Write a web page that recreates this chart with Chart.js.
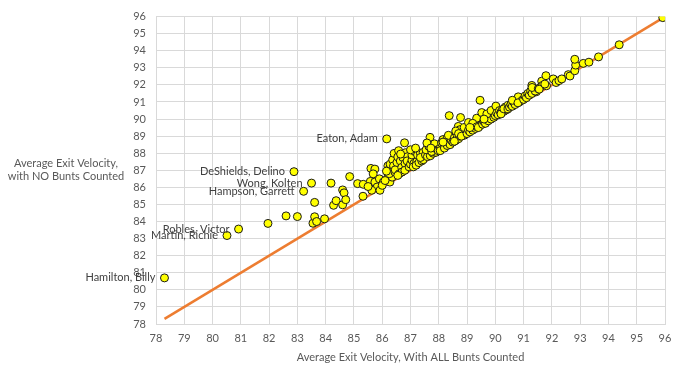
<!DOCTYPE html>
<html><head><meta charset="utf-8">
<script src="https://cdn.jsdelivr.net/npm/chart.js@4.4.0/dist/chart.umd.min.js"></script>
<style>html,body{margin:0;padding:0;background:#fff;}</style>
</head><body>
<canvas id="c" width="680" height="372"></canvas>
<script>
// Average exit velocity WITH all bunts counted (x)
const avgAllBunts = [
  78.30,80.51,80.92,81.96,82.60,83.00,82.88,83.22,83.50,84.19,83.61,83.55,83.61,83.68,83.96,84.28,84.37,84.60,84.60,84.65,84.71,84.85,85.13,85.33,85.32,
  85.60,85.74,85.68,85.58,85.74,85.82,85.90,85.63,85.92,85.50,
  86.04,86.17,86.27,86.00,86.16,86.20,86.26,86.28,86.37,86.40,86.42,86.35,86.25,86.10,86.45,86.15,
  86.46,86.52,86.55,86.58,86.64,86.69,86.73,86.79,86.82,86.81,86.60,86.70,86.80,86.55,86.95,86.90,86.65,86.88,
  87.00,87.05,87.12,87.22,87.34,87.05,87.15,87.25,87.35,87.45,87.10,87.20,87.30,87.40,87.00,87.45,87.35,87.18,
  87.53,87.64,87.69,87.88,87.60,87.70,87.80,87.90,87.55,87.65,87.75,87.85,87.95,87.58,87.72,87.98,
  88.05,88.10,88.15,88.20,88.25,88.30,88.35,88.40,88.37,88.05,88.20,88.30,88.40,88.45,88.15,88.34,
  88.50,88.55,88.60,88.65,88.70,88.75,88.69,88.75,88.77,88.90,88.95,88.60,88.70,88.80,88.90,88.55,
  89.00,89.05,89.10,89.15,89.20,89.25,89.30,89.28,89.34,89.45,89.05,89.20,89.35,89.40,89.10,
  89.46,89.52,89.55,89.60,89.65,89.70,89.75,89.80,89.85,89.90,89.95,89.70,89.85,89.60,
  90.02,90.00,90.05,90.10,90.15,90.20,90.25,90.30,90.35,90.40,90.45,90.20,90.30,90.45,
  90.50,90.55,90.60,90.65,90.70,90.75,90.80,90.85,90.81,90.95,90.60,90.80,
  91.00,91.05,91.10,91.15,91.20,91.25,91.30,91.29,91.45,91.41,91.30,
  91.52,91.58,91.64,91.67,91.79,91.81,91.55,91.75,
  92.05,92.15,92.25,92.35,92.58,92.64,92.81,92.84,92.81,93.11,93.31,93.65,94.38,95.92
];
// Average exit velocity with NO bunts counted (y)
const avgNoBunts = [
  80.70,83.18,83.56,83.89,84.33,84.29,86.92,85.77,86.25,86.25,85.12,83.90,84.28,84.00,84.16,84.95,85.22,84.98,85.85,85.68,85.28,86.63,86.22,86.18,85.48,
  87.11,87.07,86.79,86.35,86.31,86.02,86.50,85.83,85.83,86.05,
  86.31,86.50,86.31,86.12,88.84,87.26,87.11,87.36,87.61,87.26,87.99,86.60,86.80,86.40,86.90,86.95,
  87.03,87.46,87.78,88.15,87.55,87.17,87.75,88.61,88.03,87.40,86.80,86.90,87.00,86.70,87.20,87.80,87.95,87.55,
  87.36,87.60,87.40,87.50,87.70,87.90,88.10,87.90,88.00,88.05,87.20,87.30,87.45,87.55,88.20,87.62,87.75,88.30,
  87.90,88.10,88.93,88.30,87.80,87.85,88.00,88.05,88.20,88.40,88.10,88.55,88.20,88.60,88.30,88.15,
  88.30,88.60,88.80,88.40,88.50,88.90,88.55,88.60,90.20,88.15,88.30,88.45,88.50,88.75,88.65,89.05,
  88.65,88.90,88.75,89.05,88.85,89.00,89.57,89.38,90.09,89.05,89.20,89.30,89.15,89.00,89.50,88.70,
  89.15,89.35,89.25,89.50,89.35,89.60,89.45,89.76,90.05,89.60,89.80,89.75,89.55,89.50,89.50,
  91.10,90.38,89.70,89.85,89.75,90.00,89.90,90.15,90.00,90.30,90.10,90.30,90.50,90.00,
  90.76,90.20,90.35,90.25,90.50,90.40,90.55,90.45,90.70,90.55,90.80,90.30,90.60,90.60,
  90.70,90.85,90.75,91.00,90.85,91.05,91.20,91.00,91.30,91.10,91.10,90.95,
  91.15,91.35,91.25,91.50,91.40,91.65,91.50,91.97,91.60,91.64,91.85,
  91.78,91.85,92.22,91.97,92.54,91.95,91.75,92.05,
  92.35,92.14,92.25,92.35,92.60,92.52,92.83,93.16,93.50,93.26,93.33,93.64,94.35,95.94
];
// Orange reference line (y = x)
const lineX = [78.3, 95.9];
const lineY = [78.3, 95.9];
// Labelled players
const labelNames = ['Hamilton, Billy','Martin, Richie','Robles, Victor','Hampson, Garrett','Wong, Kolten','DeShields, Delino','Eaton, Adam'];
const labelX = [78.30, 80.51, 80.92, 83.22, 83.50, 82.88, 86.16];
const labelY = [80.70, 83.18, 83.56, 85.77, 86.25, 86.92, 88.84];
// Axis ticks
const axisMin = 78, axisMax = 96, axisStep = 1;
const xTitle = 'Average Exit Velocity, With ALL Bunts Counted';
const yTitleLines = ['Average Exit Velocity,', 'with NO Bunts Counted'];

const FONT = 'Lato';
const scatterData = avgAllBunts.map((v, i) => ({x: v, y: avgNoBunts[i]}));
const lineData = lineX.map((v, i) => ({x: v, y: lineY[i]}));

const textPlugin = {
  id: 'texts',
  afterDatasetsDraw(chart) {
    const {ctx, scales: {x, y}, chartArea} = chart;
    ctx.save();
    ctx.font = '11px ' + FONT;
    ctx.fillStyle = '#404040';
    ctx.textAlign = 'right';
    ctx.textBaseline = 'middle';
    labelNames.forEach((n, i) => {
      ctx.fillText(n, x.getPixelForValue(labelX[i]) - 9, y.getPixelForValue(labelY[i]));
    });
    ctx.fillStyle = '#595959';
    ctx.textAlign = 'center';
    ctx.font = '11px ' + FONT;
    ctx.fillText(yTitleLines[0], 66, 163);
    ctx.fillText(yTitleLines[1], 66, 176.5);
    ctx.fillText(xTitle, (chartArea.left + chartArea.right) / 2, 357);
    ctx.restore();
  }
};

const gridColor = '#D9D9D9';
const tickFont = {family: FONT, size: 11};
new Chart(document.getElementById('c'), {
  type: 'scatter',
  data: {
    datasets: [
      {
        label: 'Players',
        data: scatterData,
        backgroundColor: '#FFFF00',
        borderColor: '#1a1a1a',
        borderWidth: 1,
        pointRadius: 4,
        order: 1
      },
      {
        type: 'line',
        label: 'Reference',
        data: lineData,
        borderColor: '#ED7D31',
        borderWidth: 2.5,
        pointRadius: 0,
        fill: false,
        order: 2
      }
    ]
  },
  options: {
    responsive: false,
    animation: false,
    devicePixelRatio: 1,
    layout: {padding: {left: 130, right: 15, top: 11, bottom: 0}},
    plugins: {legend: {display: false}, tooltip: {enabled: false}},
    scales: {
      x: {
        type: 'linear', min: axisMin, max: axisMax,
        ticks: {stepSize: axisStep, color: '#595959', font: tickFont, padding: 8, maxRotation: 0},
        grid: {color: gridColor, drawTicks: false},
        border: {color: gridColor},
        afterFit(s) { s.height = 48; }
      },
      y: {
        type: 'linear', min: axisMin, max: axisMax,
        ticks: {stepSize: axisStep, color: '#595959', font: tickFont, padding: 10},
        grid: {color: gridColor, drawTicks: false},
        border: {color: gridColor},
        afterFit(s) { s.width = 26; }
      }
    }
  },
  plugins: [textPlugin]
});
</script>
</body></html>
